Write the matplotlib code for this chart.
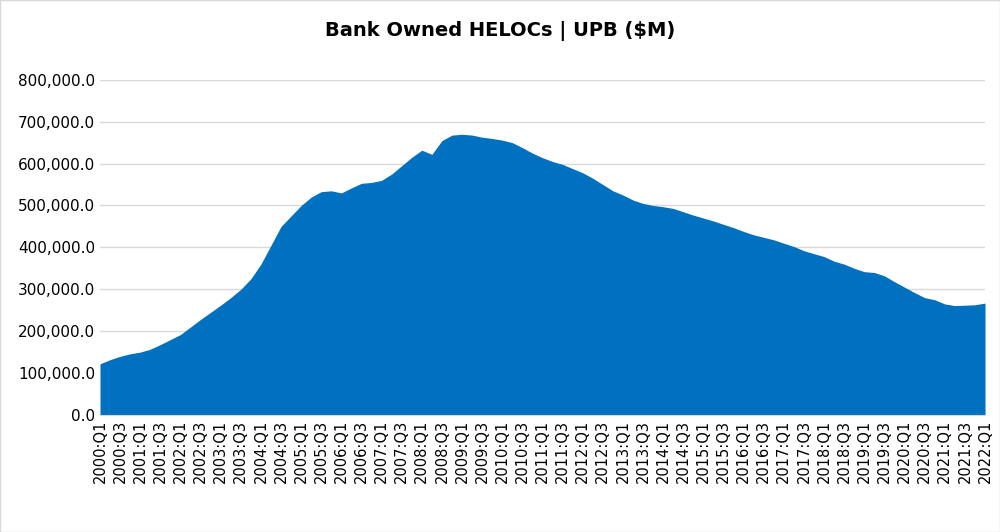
import numpy as np
import matplotlib.pyplot as plt

quarters = [f"{y}:Q{q}" for y in range(2000, 2023) for q in range(1, 5)][:89]
upb_k = [122, 132, 140, 146, 150, 157, 168, 180, 192, 210,
         228, 245, 262, 280, 300, 325, 360, 405, 450, 475,
         500, 520, 533, 535, 530, 542, 553, 555, 560, 575,
         595, 615, 632, 622, 655, 668, 670, 668, 663, 660,
         656, 650, 638, 625, 614, 605, 598, 588, 578, 565,
         550, 535, 525, 513, 505, 500, 497, 493, 485, 477,
         470, 463, 455, 447, 438, 430, 424, 418, 410, 402,
         392, 385, 378, 367, 360, 350, 342, 340, 332, 318,
         305, 292, 280, 275, 265, 261, 262, 263, 267]
upb = np.array(upb_k) * 1000.0

fig = plt.figure(figsize=(10, 5.32), dpi=100)
ax = fig.add_axes([0.1, 0.22, 0.885, 0.63])
x = np.arange(len(upb))
ax.fill_between(x, 0, upb, color="#0070C0", lw=0, zorder=2)
ax.set_xlim(0, len(upb) - 1)
ax.set_ylim(0, 800000)
ax.set_yticks(np.arange(0, 800001, 100000))
ax.set_yticklabels([f"{v:,.1f}" for v in np.arange(0, 800001, 100000)], fontsize=11)
ax.set_xticks(x[::2])
ax.set_xticklabels(quarters[::2], rotation=90, fontsize=10.5)
ax.grid(axis="y", color="#d9d9d9", lw=1, zorder=0)
for s in ["top", "right", "left"]:
    ax.spines[s].set_visible(False)
ax.spines["bottom"].set_color("#d9d9d9")
ax.tick_params(length=0)
fig.suptitle("Bank Owned HELOCs | UPB ($M)", fontsize=14, fontweight="bold", y=0.96)
fig.patches.append(plt.Rectangle((0, 0), 1, 1, transform=fig.transFigure,
                                 fill=False, ec="#d9d9d9", lw=1))
fig.savefig("out.png")
